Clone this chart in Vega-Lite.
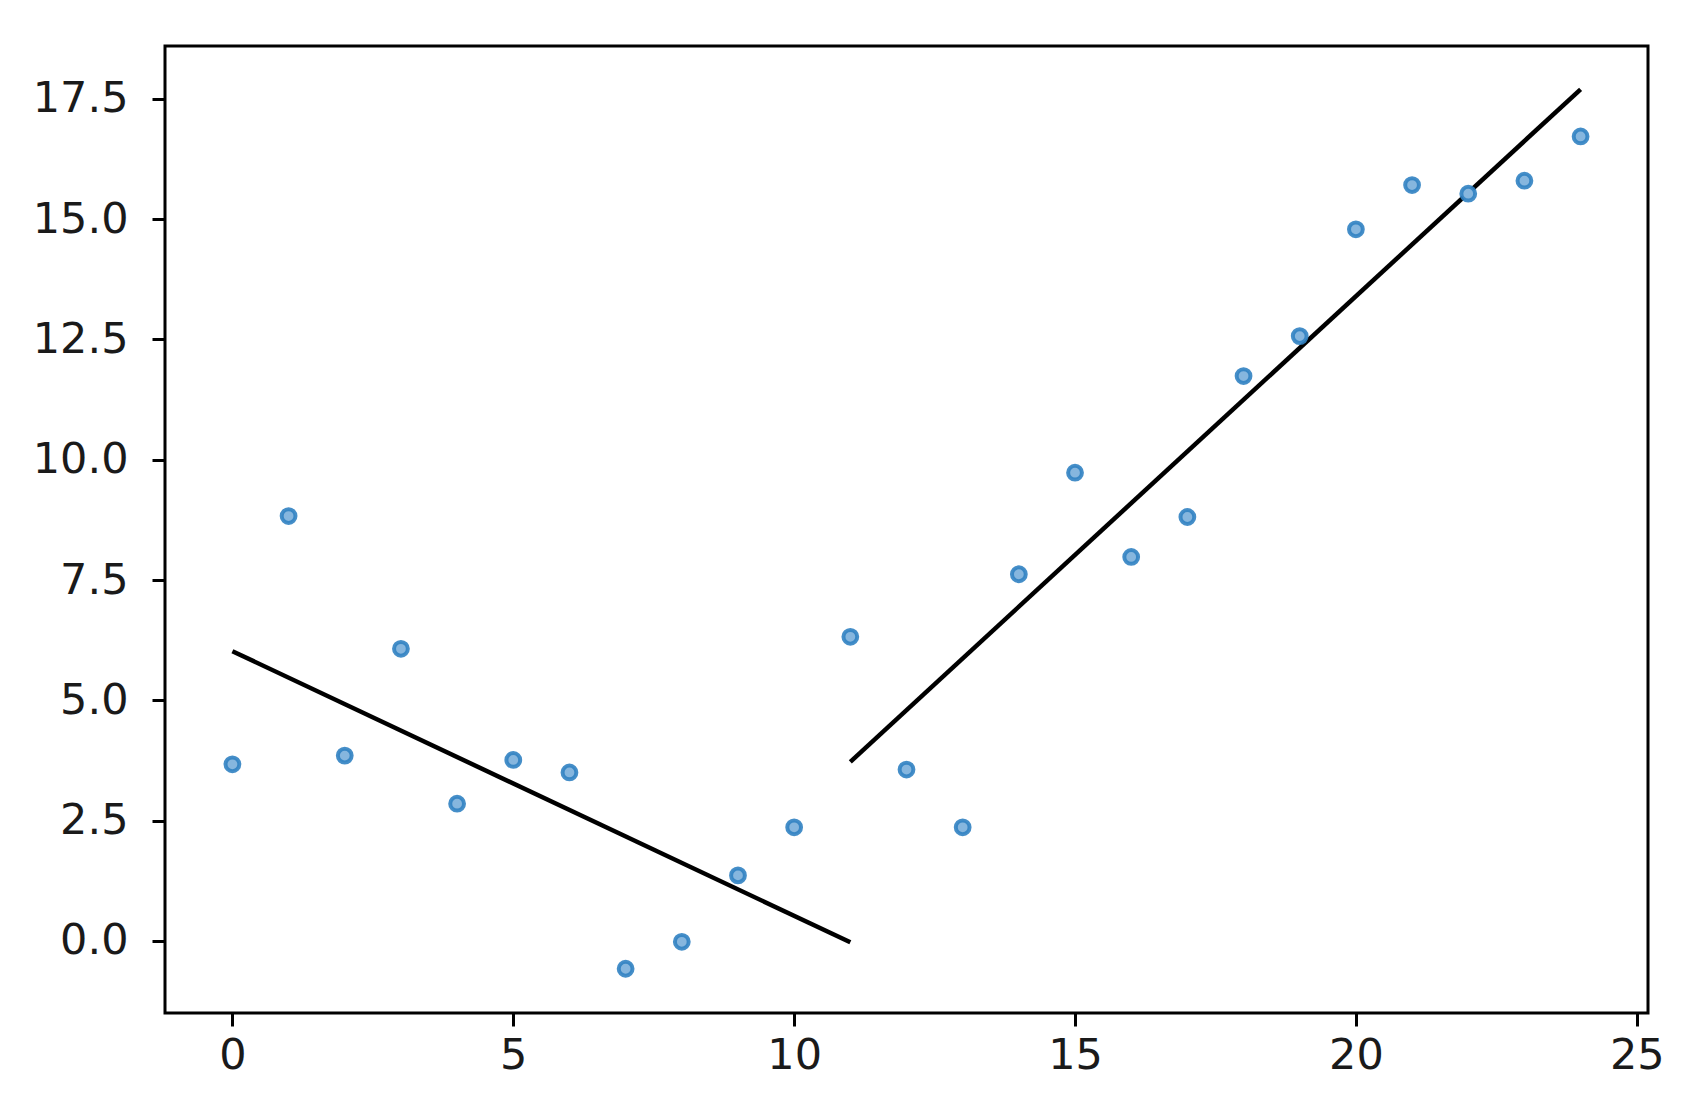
{
  "$schema": "https://vega.github.io/schema/vega-lite/v6.json",
  "autosize": "none",
  "width": 1483,
  "height": 967,
  "padding": {"left": 165, "top": 46, "right": 46, "bottom": 105},
  "background": "white",
  "config": {
    "view": {"stroke": "black", "strokeWidth": 3},
    "axis": {
      "domain": false,
      "grid": false,
      "ticks": true,
      "tickColor": "black",
      "tickWidth": 3,
      "tickSize": 13,
      "labelFont": "DejaVu Sans",
      "labelFontSize": 43,
      "labelColor": "#1a1a1a",
      "title": null
    }
  },
  "datasets": {
    "points": [
      {"x": 0, "y": 3.67}, {"x": 1, "y": 8.83}, {"x": 2, "y": 3.85}, {"x": 3, "y": 6.07},
      {"x": 4, "y": 2.85}, {"x": 5, "y": 3.76}, {"x": 6, "y": 3.5}, {"x": 7, "y": -0.58},
      {"x": 8, "y": -0.02}, {"x": 9, "y": 1.36}, {"x": 10, "y": 2.36}, {"x": 11, "y": 6.32},
      {"x": 12, "y": 3.56}, {"x": 13, "y": 2.36}, {"x": 14, "y": 7.62}, {"x": 15, "y": 9.73},
      {"x": 16, "y": 7.98}, {"x": 17, "y": 8.81}, {"x": 18, "y": 11.74}, {"x": 19, "y": 12.57},
      {"x": 20, "y": 14.79}, {"x": 21, "y": 15.71}, {"x": 22, "y": 15.53}, {"x": 23, "y": 15.8},
      {"x": 24, "y": 16.72}
    ],
    "lines": [
      {"seg": "a", "x": 0, "y": 6.02}, {"seg": "a", "x": 11, "y": -0.03},
      {"seg": "b", "x": 11, "y": 3.72}, {"seg": "b", "x": 24, "y": 17.7}
    ]
  },
  "layer": [
    {
      "data": {"name": "lines"},
      "mark": {"type": "line", "color": "black", "strokeWidth": 4.5, "strokeCap": "butt"},
      "encoding": {
        "x": {"field": "x", "type": "quantitative", "scale": {"domain": [-1.2, 25.2], "nice": false, "zero": false},
              "axis": {"values": [0, 5, 10, 15, 20, 25], "labelPadding": 8, "format": "d"}},
        "y": {"field": "y", "type": "quantitative", "scale": {"domain": [-1.5, 18.6], "nice": false, "zero": false},
              "axis": {"values": [0, 2.5, 5, 7.5, 10, 12.5, 15, 17.5], "format": ".1f", "labelPadding": 24}},
        "detail": {"field": "seg"}
      }
    },
    {
      "data": {"name": "points"},
      "mark": {"type": "point", "shape": "circle", "filled": true, "size": 190, "fill": "#86b6de", "fillOpacity": 1, "stroke": "#3182c2", "strokeWidth": 4, "strokeOpacity": 0.9},
      "encoding": {
        "x": {"field": "x", "type": "quantitative"},
        "y": {"field": "y", "type": "quantitative"}
      }
    }
  ]
}
